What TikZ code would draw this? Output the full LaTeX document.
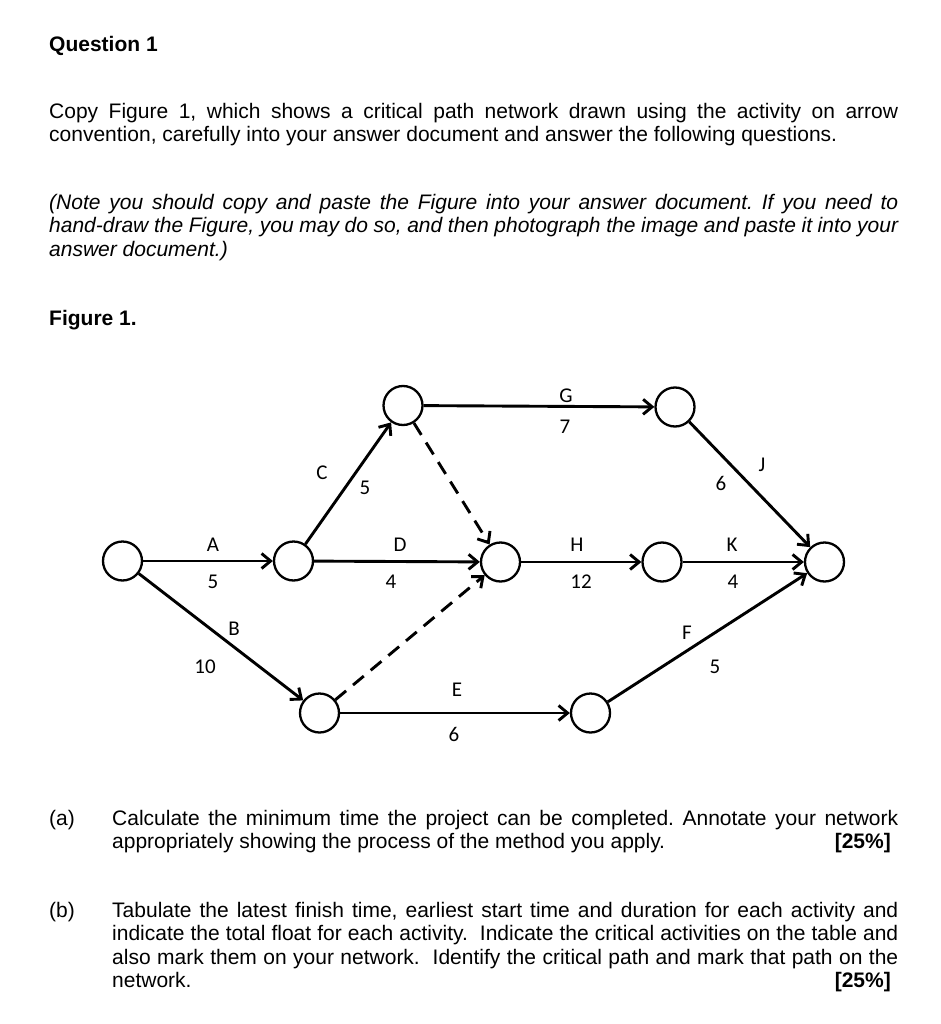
\documentclass[tikz,border=0pt]{standalone}
\usepackage{fontspec}
\setmainfont{Liberation Sans}
\newfontfamily\lblfont{Carlito}
\usetikzlibrary{arrows.meta}
\frenchspacing
\newcommand{\jl}[2]{\makebox[#1][s]{#2}}
\tikzset{
  ev/.style={circle, draw, line width=2.3pt, minimum size=39pt, inner sep=0pt, fill=white},
  act/.style={line width=2.9pt, -{Straight Barb[length=9pt,width=15pt]}},
  dum/.style={act, dash pattern=on 14pt off 9pt},
  lbl/.style={font=\lblfont\fontsize{21}{24}\selectfont, inner sep=0pt},
  body/.style={anchor=base west, inner sep=0pt, font=\fontsize{21}{24}\selectfont},
  bodyit/.style={body, font=\fontsize{21}{24}\selectfont\itshape},
  bodybf/.style={body, font=\fontsize{21}{24}\selectfont\bfseries},
  pct/.style={anchor=base east, inner sep=0pt, font=\fontsize{21}{24}\selectfont\bfseries}
}
\begin{document}
\begin{tikzpicture}[x=1pt, y=-1pt]
\useasboundingbox[fill=white] (0,0) rectangle (941,1024);

% header text
\node[bodybf] (q1) at (49,52) {Question 1};
\node[body] (p1a) at (49,119) {\jl{849pt}{Copy Figure 1, which shows a critical path network drawn using the activity on arrow}};
\node[body] (p1b) at (49,142) {convention, carefully into your answer document and answer the following questions.};
\node[bodyit] (p2a) at (49,209.5) {\jl{849pt}{(Note you should copy and paste the Figure into your answer document. If you need to}};
\node[bodyit] (p2b) at (49,233) {\jl{849pt}{hand-draw the Figure, you may do so, and then photograph the image and paste it into your}};
\node[bodyit] (p2c) at (49,256.5) {answer document.)};
\node[bodybf] (fig) at (49,325) {Figure 1.};

% events
\node[ev] (n1) at (122.5,561) {};
\node[ev] (n2) at (293.5,561) {};
\node[ev] (n3) at (403,405.5) {};
\node[ev] (n4) at (500.5,562) {};
\node[ev] (n5) at (675,407) {};
\node[ev] (n6) at (662,562) {};
\node[ev] (n7) at (824.5,562) {};
\node[ev] (n8) at (319.5,713) {};
\node[ev] (n9) at (590.5,713) {};

% activities
\draw[act] (n1) -- (n2);
\draw[act] (n1) -- (n8);
\draw[act] (n2) -- (n3);
\draw[act] (n2) -- (n4);
\draw[dum] (n3) -- (n4);
\draw[dum] (n8) -- (n4);
\draw[act] (n8) -- (n9);
\draw[act] (n3) -- (n5);
\draw[act] (n4) -- (n6);
\draw[act] (n5) -- (n7);
\draw[act] (n6) -- (n7);
\draw[act] (n9) -- (n7);

% labels
\node[lbl] (la) at (213,545) {A};
\node[lbl] (da) at (213,582) {5};
\node[lbl] (lc) at (322,473) {C};
\node[lbl] (dc) at (365,488) {5};
\node[lbl] (ld) at (400,545) {D};
\node[lbl] (dd) at (391,582) {4};
\node[lbl] (lg) at (566,396) {G};
\node[lbl] (dg) at (565,427) {7};
\node[lbl] (lj) at (762,465) {J};
\node[lbl] (dj) at (721,483) {6};
\node[lbl] (lh) at (577,545) {H};
\node[lbl] (dh) at (581,582) {12};
\node[lbl] (lk) at (732,545) {K};
\node[lbl] (dk) at (733,582) {4};
\node[lbl] (lb) at (234,629) {B};
\node[lbl] (db) at (205,667) {10};
\node[lbl] (le) at (457,690) {E};
\node[lbl] (de) at (454,734) {6};
\node[lbl] (lf) at (687,633) {F};
\node[lbl] (df) at (715,667) {5};

% questions
\node[body] (qa) at (49,825) {(a)};
\node[body] (qa1) at (112,825) {\jl{786pt}{Calculate the minimum time the project can be completed. Annotate your network}};
\node[body] (qa2) at (112,848) {appropriately showing the process of the method you apply.};
\node[pct] (pa) at (891,848) {[25\%]};

\node[body] (qb) at (49,917) {(b)};
\node[body] (qb1) at (112,917) {\jl{786pt}{Tabulate the latest finish time, earliest start time and duration for each activity and}};
\node[body] (qb2) at (112,940.5) {\jl{786pt}{indicate the total float for each activity.\ \ Indicate the critical activities on the table and}};
\node[body] (qb3) at (112,964) {\jl{786pt}{also mark them on your network.\ \ Identify the critical path and mark that path on the}};
\node[body] (qb4) at (112,987.5) {network.};
\node[pct] (pb) at (891,987.5) {[25\%]};
\end{tikzpicture}
\end{document}
